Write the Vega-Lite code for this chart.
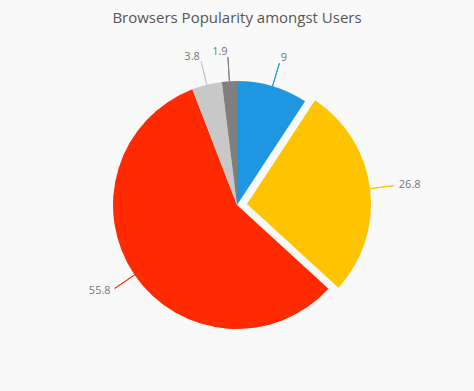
{
  "$schema": "https://vega.github.io/schema/vega-lite/v6.json",
  "width": 474,
  "height": 391,
  "autosize": {"type": "fit", "contains": "padding"},
  "padding": {"left": 0, "right": 0, "top": 11, "bottom": 12},
  "background": "#f9f9f9",
  "config": {"view": {"stroke": null}},
  "title": {
    "text": "Browsers Popularity amongst Users",
    "font": "Open Sans",
    "fontSize": 15,
    "fontWeight": "normal",
    "color": "#555555",
    "offset": 5
  },
  "data": {
    "values": [
      {"browser": "Blue", "value": 9, "order": 1},
      {"browser": "Yellow", "value": 26.8, "order": 2},
      {"browser": "Red", "value": 55.8, "order": 3},
      {"browser": "LightGray", "value": 3.8, "order": 4},
      {"browser": "DarkGray", "value": 1.9, "order": 5}
    ]
  },
  "transform": [
    {"window": [{"op": "sum", "field": "value", "as": "cum"}], "sort": [{"field": "order"}], "frame": [null, 0]},
    {"calculate": "datum.cum - datum.value / 2", "as": "mid"}
  ],
  "layer": [
    {
      "mark": {"type": "arc", "outerRadius": 124},
      "encoding": {
        "theta": {"field": "value", "type": "quantitative", "stack": true},
        "order": {"field": "order", "type": "quantitative"},
        "color": {
          "field": "browser", "type": "nominal", "legend": null,
          "scale": {"domain": ["Blue", "Yellow", "Red", "LightGray", "DarkGray"], "range": ["#1f96e0", "#ffc400", "#ff2a00", "#c8c8c8", "#7f7f7f"]}
        },
        "fillOpacity": {"condition": {"test": "datum.browser === 'Yellow'", "value": 0}, "value": 1}
      }
    },
    {
      "mark": {"type": "arc", "outerRadius": 124, "xOffset": 10, "yOffset": -1},
      "encoding": {
        "theta": {"field": "value", "type": "quantitative", "stack": true},
        "order": {"field": "order", "type": "quantitative"},
        "color": {"field": "browser", "type": "nominal", "legend": null},
        "fillOpacity": {"condition": {"test": "datum.browser === 'Yellow'", "value": 1}, "value": 0}
      }
    },
    {
      "transform": [{"filter": "datum.browser !== 'Yellow'"}],
      "mark": {"type": "arc", "innerRadius": 124, "outerRadius": 148, "fill": null, "strokeWidth": 1},
      "encoding": {
        "theta": {"field": "mid", "type": "quantitative", "stack": null},
        "theta2": {"field": "mid"},
        "stroke": {"field": "browser", "type": "nominal", "legend": null, "scale": {"domain": ["Blue", "Yellow", "Red", "LightGray", "DarkGray"], "range": ["#1f96e0", "#ffc400", "#ff2a00", "#c8c8c8", "#7f7f7f"]}}
      }
    },
    {
      "transform": [{"filter": "datum.browser === 'Yellow'"}],
      "mark": {"type": "arc", "innerRadius": 124, "outerRadius": 148, "fill": null, "strokeWidth": 1, "xOffset": 10, "yOffset": -1},
      "encoding": {
        "theta": {"field": "mid", "type": "quantitative", "stack": null},
        "theta2": {"field": "mid"},
        "stroke": {"field": "browser", "type": "nominal", "legend": null}
      }
    },
    {
      "transform": [{"filter": "datum.browser === 'Blue'"}],
      "mark": {"type": "text", "radius": 153, "align": "left", "baseline": "middle", "font": "Open Sans", "fontSize": 11, "color": "#777777"},
      "encoding": {
        "theta": {"field": "mid", "type": "quantitative", "stack": null},
        "text": {"field": "value", "type": "quantitative"}
      }
    },
    {
      "transform": [{"filter": "datum.browser === 'Yellow'"}],
      "mark": {"type": "text", "radius": 153, "align": "left", "baseline": "middle", "font": "Open Sans", "fontSize": 11, "color": "#777777", "xOffset": 10, "yOffset": -1},
      "encoding": {
        "theta": {"field": "mid", "type": "quantitative", "stack": null},
        "text": {"field": "value", "type": "quantitative"}
      }
    },
    {
      "transform": [{"filter": "datum.browser !== 'Blue' && datum.browser !== 'Yellow'"}],
      "mark": {"type": "text", "radius": 153, "align": "right", "baseline": "middle", "font": "Open Sans", "fontSize": 11, "color": "#777777"},
      "encoding": {
        "theta": {"field": "mid", "type": "quantitative", "stack": null},
        "text": {"field": "value", "type": "quantitative"}
      }
    }
  ]
}
